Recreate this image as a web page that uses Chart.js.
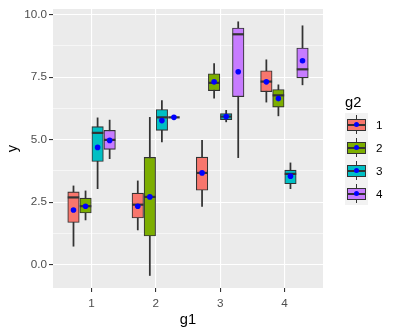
<!DOCTYPE html>
<html>
<head>
<meta charset="utf-8">
<title>y by g1 and g2</title>
<script src="https://cdn.jsdelivr.net/npm/chart.js@4/dist/chart.umd.min.js"></script>
<style>
  html, body { margin: 0; padding: 0; background: #ffffff; }
  #wrap { position: relative; width: 400px; height: 333px; font-family: "Liberation Sans", Arial, sans-serif; }
  #chart { display: block; }
  #legend { position: absolute; left: 345px; top: 92px; }
  #legend .title { font-size: 14.7px; line-height: 20px; color: #000; margin-bottom: 1px; }
  #legend .item { position: relative; height: 23px; }
  #legend .key { position: absolute; left: 0; top: 0; width: 23px; height: 23px; background: #f2f2f2; }
  #legend .whisker { position: absolute; left: 11px; top: 2px; width: 1px; height: 19px; background: #333; }
  #legend .box { position: absolute; left: 2px; top: 6px; width: 17px; height: 10px; border: 1px solid #333; }
  #legend .median { position: absolute; left: 2px; top: 10.5px; width: 19px; height: 2px; background: #333; }
  #legend .dot { position: absolute; left: 8.7px; top: 8.7px; width: 5.6px; height: 5.6px; border-radius: 50%; background: #0000ff; }
  #legend .label { position: absolute; left: 31px; top: 0; line-height: 23px; font-size: 11.7px; color: #000; }
</style>
</head>
<body>
<div id="wrap">
  <canvas id="chart" width="400" height="333"></canvas>
  <div id="legend"></div>
</div>
<script>
  'use strict';

  // x levels and fill groups
  const G1 = [1, 2, 3, 4];
  const G2 = ['1', '2', '3', '4'];
  const COLORS = ['#F8766D', '#7CAE00', '#00BFC4', '#C77CFF'];

  // one row per g2 group, one value per g1 level
  const WHISKER_LOW = [
    [0.74, 1.39, 2.33, 6.50],
    [1.79, -0.43, 6.66, 5.95],
    [3.04, 4.91, 5.71, 3.04],
    [4.24, 5.89, 4.28, 7.19],
  ];
  const Q1 = [
    [1.69, 1.87, 2.98, 6.92],
    [2.07, 1.15, 6.96, 6.30],
    [4.13, 5.37, 5.80, 3.24],
    [4.61, 5.89, 6.72, 7.47],
  ];
  const MEDIAN = [
    [2.69, 2.40, 3.67, 7.32],
    [2.34, 2.71, 7.27, 6.77],
    [5.27, 5.89, 5.92, 3.63],
    [4.99, 5.89, 9.21, 7.81],
  ];
  const Q3 = [
    [2.91, 2.86, 4.30, 7.75],
    [2.66, 4.29, 7.63, 7.00],
    [5.52, 6.20, 6.04, 3.78],
    [5.37, 5.89, 9.46, 8.66],
  ];
  const WHISKER_HIGH = [
    [3.15, 3.35, 4.97, 8.19],
    [2.95, 5.89, 8.04, 7.19],
    [5.87, 6.56, 6.17, 4.07],
    [5.78, 5.89, 9.71, 9.55],
  ];
  const MEAN = [
    [2.19, 2.34, 3.67, 7.31],
    [2.34, 2.71, 7.31, 6.64],
    [4.69, 5.76, 5.92, 3.54],
    [4.97, 5.89, 7.71, 8.15],
  ];

  const Y_TICKS = [0, 2.5, 5, 7.5, 10];
  const Y_MINOR = [1.25, 3.75, 6.25, 8.75];

  const FONT = '"Liberation Sans", Arial, sans-serif';
  const OUTLINE = '#333333';
  const DODGE_WIDTH = 0.75;

  function dodged(j, i) {
    return G1[i] + (j - (G2.length - 1) / 2) * DODGE_WIDTH / G2.length;
  }

  const datasets = [];
  G2.forEach((name, j) => {
    datasets.push({
      type: 'bar',
      label: name + ' whisker',
      data: G1.map((g, i) => ({ x: dodged(j, i), y: [WHISKER_LOW[j][i], WHISKER_HIGH[j][i]] })),
      backgroundColor: OUTLINE,
      barThickness: 1.1,
      grouped: false,
      order: 4,
    });
    datasets.push({
      type: 'bar',
      label: name,
      data: G1.map((g, i) => ({ x: dodged(j, i), y: [Q1[j][i], Q3[j][i]] })),
      backgroundColor: COLORS[j],
      borderColor: OUTLINE,
      borderWidth: 1.1,
      borderSkipped: false,
      barThickness: 11.5,
      grouped: false,
      order: 3,
    });
    datasets.push({
      type: 'scatter',
      label: name + ' median',
      data: G1.map((g, i) => ({ x: dodged(j, i), y: MEDIAN[j][i] })),
      pointStyle: 'line',
      pointRadius: 5.75,
      borderColor: OUTLINE,
      borderWidth: 2.2,
      order: 2,
    });
    datasets.push({
      type: 'scatter',
      label: name + ' mean',
      data: G1.map((g, i) => ({ x: dodged(j, i), y: MEAN[j][i] })),
      pointStyle: 'circle',
      pointRadius: 2.8,
      backgroundColor: '#0000FF',
      borderWidth: 0,
      order: 1,
    });
  });

  // grey panel behind the grid, like theme_grey
  const panelBackground = {
    id: 'panelBackground',
    beforeDraw(chart) {
      const { ctx, chartArea } = chart;
      ctx.save();
      ctx.fillStyle = '#EBEBEB';
      ctx.fillRect(chartArea.left, chartArea.top, chartArea.right - chartArea.left, chartArea.bottom - chartArea.top);
      ctx.restore();
    },
  };

  const isMajor = (v) => Y_TICKS.includes(v);

  new Chart(document.getElementById('chart'), {
    type: 'bar',
    data: { datasets },
    plugins: [panelBackground],
    options: {
      responsive: false,
      animation: false,
      layout: { padding: { top: 7, right: 77, left: 0, bottom: 0 } },
      plugins: {
        legend: { display: false },
        tooltip: { enabled: false },
      },
      scales: {
        x: {
          type: 'linear',
          min: 0.4,
          max: 4.6,
          offset: false,
          afterBuildTicks: (scale) => { scale.ticks = G1.map((v) => ({ value: v })); },
          afterFit: (scale) => { scale.height = 45; },
          border: { display: false },
          grid: { offset: false, color: '#FFFFFF', lineWidth: 1.1, tickColor: OUTLINE, tickLength: 4, tickWidth: 1.1 },
          ticks: {
            color: '#4D4D4D',
            font: { family: FONT, size: 11.7 },
            padding: 5,
            callback: (v) => String(v),
          },
          title: {
            display: true,
            text: 'g1',
            color: '#000000',
            font: { family: FONT, size: 14.7 },
            padding: { top: 0, bottom: 4 },
          },
        },
        y: {
          type: 'linear',
          min: -0.93,
          max: 10.22,
          afterBuildTicks: (scale) => {
            scale.ticks = Y_TICKS.concat(Y_MINOR).sort((a, b) => a - b).map((v) => ({ value: v }));
          },
          afterFit: (scale) => { scale.width = 53; },
          border: { display: false },
          grid: {
            color: '#FFFFFF',
            lineWidth: (ctx) => (ctx.tick && isMajor(ctx.tick.value) ? 1.1 : 0.55),
            tickColor: (ctx) => (ctx.tick && isMajor(ctx.tick.value) ? OUTLINE : 'rgba(0,0,0,0)'),
            tickLength: 4,
            tickWidth: 1.1,
          },
          ticks: {
            autoSkip: false,
            color: '#4D4D4D',
            font: { family: FONT, size: 11.7 },
            padding: 2,
            callback: (v) => (isMajor(v) ? v.toFixed(1) : ''),
          },
          title: {
            display: true,
            text: 'y',
            color: '#000000',
            font: { family: FONT, size: 14.7 },
            padding: { top: 4, bottom: 0 },
          },
        },
      },
    },
  });

  // legend, same look as ggplot's boxplot keys
  const legend = document.getElementById('legend');
  const title = document.createElement('div');
  title.className = 'title';
  title.textContent = 'g2';
  legend.appendChild(title);
  G2.forEach((name, j) => {
    const item = document.createElement('div');
    item.className = 'item';
    item.innerHTML =
      '<div class="key"><div class="whisker"></div>' +
      '<div class="box" style="background:' + COLORS[j] + '"></div>' +
      '<div class="median"></div><div class="dot"></div></div>' +
      '<div class="label"></div>';
    item.querySelector('.label').textContent = name;
    legend.appendChild(item);
  });
</script>
</body>
</html>
